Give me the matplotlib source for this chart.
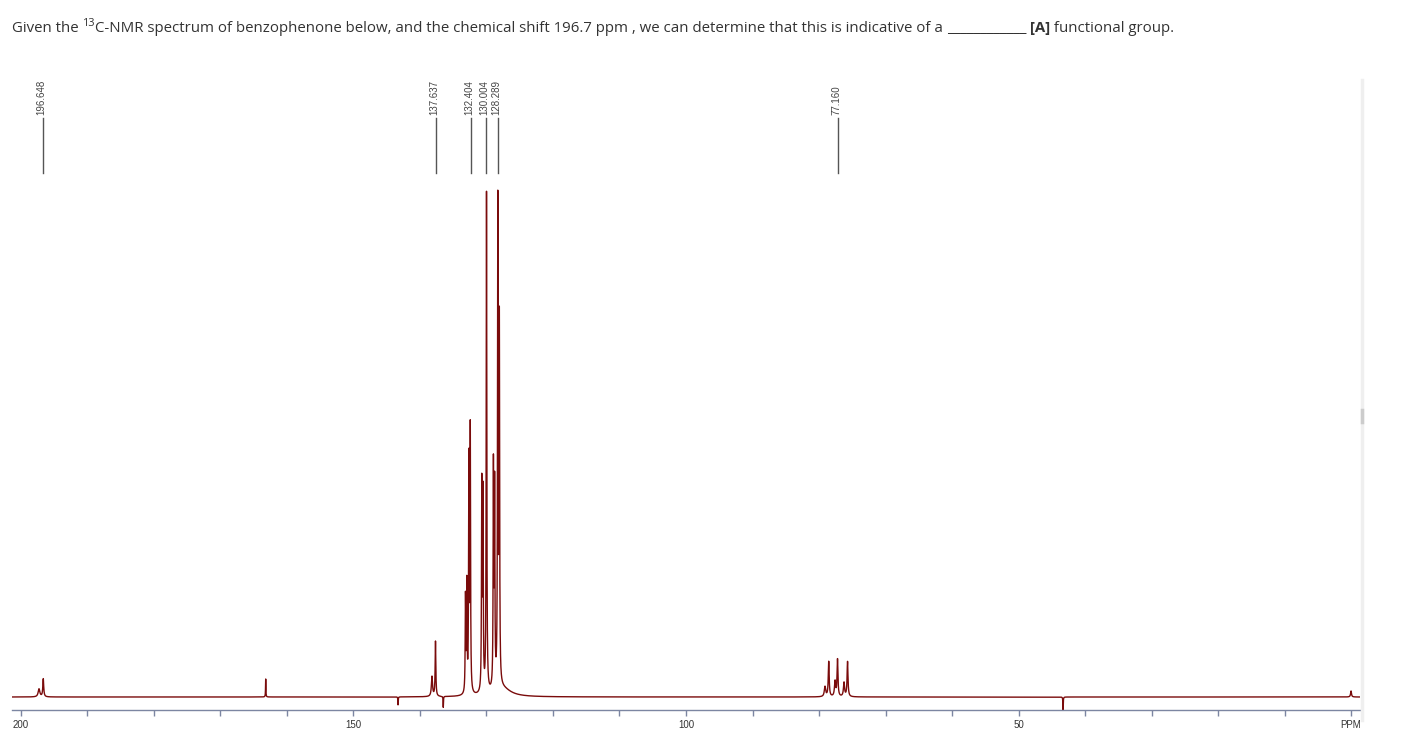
import numpy as np
from matplotlib import pyplot as plt
from matplotlib.lines import Line2D

c_spec = "#7a0b0b"
c_axis = "#7c86a2"
c_lab = "#444444"

# peak list: position (ppm), height (px above baseline), half width (ppm)
peak_ppm = [197.29, 196.65, 163.2, 143.3, 138.20, 137.67, 136.5,
            133.16, 132.96, 132.65, 132.44, 130.71, 130.53, 130.00,
            128.96, 128.78, 128.30, 128.07, 127.6,
            79.10, 78.54, 77.59, 77.22, 76.24, 75.71, 43.3, 0.0]
peak_h = [8, 18, 18, -8, 20, 55, -11,
          95, 107, 230, 262, 205, 194, 500,
          219, 197, 480, 360, 8,
          10, 35, 15, 37, 14, 35, -14, 6]
peak_w = [0.15, 0.08, 0.03, 0.03, 0.10, 0.06, 0.03,
          0.05, 0.05, 0.05, 0.05, 0.05, 0.05, 0.05,
          0.05, 0.05, 0.05, 0.05, 1.5,
          0.12, 0.08, 0.10, 0.08, 0.10, 0.08, 0.03, 0.08]

label_ppm = [196.648, 137.637, 132.404, 130.004, 128.289, 77.160]
label_txt = ["196.648", "137.637", "132.404", "130.004", "128.289", "77.160"]

tick_ppm = list(range(200, -1, -10))
tick_lab = {200: "200", 150: "150", 100: "100", 50: "50", 0: "PPM"}

x = np.linspace(201.35, -1.35, 40000)
y = np.zeros_like(x)
for p, h, w in zip(peak_ppm, peak_h, peak_w):
    y += h * w**2 / ((x - p)**2 + w**2)

fig = plt.figure(figsize=(14.01, 7.42), dpi=100)
W, H = 1401, 742
ax = fig.add_axes([12 / W, (H - 710) / H, (1360 - 12) / W, (710 - 60) / H])
ax.plot(x, y, color=c_spec, lw=1.0)
ax.set_xlim(201.35, -1.35)
ax.set_ylim(-13, 637)

for s in ["top", "right", "left"]:
    ax.spines[s].set_visible(False)
ax.spines["bottom"].set_color(c_axis)
ax.spines["bottom"].set_linewidth(1.0)
ax.set_yticks([])
ax.set_xticks(tick_ppm)
ax.set_xticklabels([tick_lab.get(t, "") for t in tick_ppm])
ax.tick_params(axis="x", direction="out", length=4, width=1, color=c_axis,
               labelsize=7, labelcolor="#333333", pad=3)
for lbl in ax.get_xticklabels():
    lbl.set_family("Liberation Sans")

# peak annotations
for p, t in zip(label_ppm, label_txt):
    ax.plot([p, p], [524, 579], color="#555555", lw=1.0, clip_on=False)
    ax.text(p + 0.25, 582, t, rotation=90, ha="center", va="bottom",
            fontsize=7, color=c_lab, family="Liberation Sans", clip_on=False)

# scrollbar-like gray line on the right
fig.add_artist(Line2D([1361.5 / W, 1361.5 / W], [1 - 80 / H, 1 - 720 / H],
                      color="#efefef", lw=2.5))
fig.add_artist(Line2D([1361.5 / W, 1361.5 / W], [1 - 410 / H, 1 - 422 / H],
                      color="#cccccc", lw=2.5))

# question text in pieces (superscript and bold)
fig.canvas.draw()
r = fig.canvas.get_renderer()
base = 1 - 32 / H
segs = [
    ("Given the ", 10.85, "normal", 0),
    ("13", 7.8, "normal", 6),
    ("C-NMR spectrum of benzophenone below, and the chemical shift 196.7 ppm , we can determine that this is indicative of a ", 10.85, "normal", 0),
    ("____________", 10.85, "normal", 0),
    (" ", 10.85, "normal", 0),
    ("[A]", 10.85, "bold", 0),
    (" functional group.", 10.85, "normal", 0),
]
xp = 12
for txt, size, weight, rise in segs:
    t = fig.text(xp / W, base + rise / H, txt, fontsize=size, fontweight=weight,
                 family="Open Sans", color="#333333", va="baseline", ha="left")
    bb = t.get_window_extent(renderer=r)
    xp = bb.x1

plt.savefig("out.png", dpi=100)
